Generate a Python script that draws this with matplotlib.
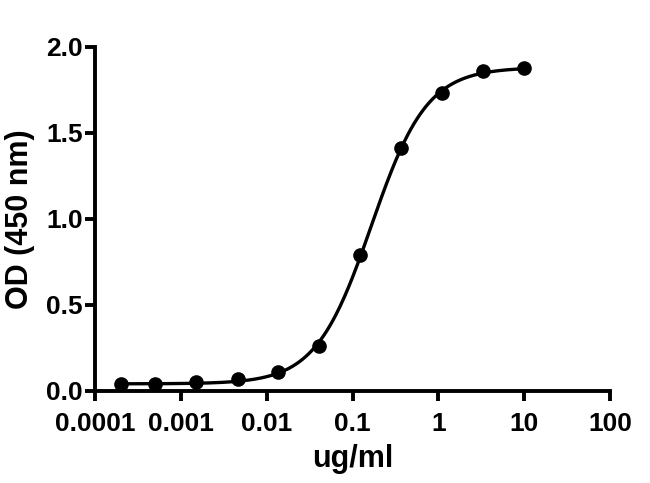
import numpy as np
import matplotlib
matplotlib.use("Agg")
import matplotlib.pyplot as plt

conc = [0.0002, 0.0005, 0.0015, 0.0046, 0.0137, 0.0412, 0.123, 0.370, 1.11, 3.33, 10.0]
od = [0.04, 0.04, 0.05, 0.07, 0.11, 0.26, 0.79, 1.41, 1.73, 1.86, 1.88]
xticks = [0.0001, 0.001, 0.01, 0.1, 1, 10, 100]
xtick_labels = ["0.0001", "0.001", "0.01", "0.1", "1", "10", "100"]
yticks = [0.0, 0.5, 1.0, 1.5, 2.0]

x = np.array(conc)
y = np.array(od)

# 4PL fit: grid search over EC50 / Hill, linear least squares for bottom/top
best = None
for lec in np.linspace(-2, 0, 201):
    for h in np.linspace(0.5, 3, 126):
        f = 1.0 / (1.0 + (10**lec / x) ** h)
        A = np.vstack([1 - f, f]).T
        coef, *_ = np.linalg.lstsq(A, y, rcond=None)
        r = np.sum((A @ coef - y) ** 2)
        if best is None or r < best[0]:
            best = (r, lec, h, coef)
_, lec, h, (bot, top) = best
xf = np.logspace(np.log10(x.min()), np.log10(x.max()), 400)
yf = bot + (top - bot) / (1.0 + (10**lec / xf) ** h)

plt.rcParams['font.family'] = ['Liberation Sans', 'DejaVu Sans']
plt.rcParams['font.weight'] = 'bold'

fig = plt.figure(figsize=(6.5, 4.83), dpi=100)
ax = fig.add_axes([95/650, 1-391/483, (610-95)/650, (391-47)/483])
ax.plot(xf, yf, color='black', lw=2.4, zorder=2)
ax.plot(x, y, 'o', color='black', ms=9.5, zorder=3)
ax.set_xscale('log')
ax.set_xlim(0.0001, 100)
ax.set_ylim(0, 2.0)
ax.set_xticks(xticks)
ax.set_xticklabels(xtick_labels)
ax.xaxis.set_minor_locator(matplotlib.ticker.NullLocator())
ax.set_yticks(yticks)
ax.set_yticklabels([f"{v:.1f}" for v in yticks])
for s in ['top', 'right']:
    ax.spines[s].set_visible(False)
for s in ['left', 'bottom']:
    ax.spines[s].set_linewidth(2.8)
ax.tick_params(direction='out', length=7, width=2.8, labelsize=19)
ax.tick_params(axis='x', pad=8)
ax.tick_params(axis='y', pad=2)
for lab in ax.get_xticklabels() + ax.get_yticklabels():
    lab.set_fontweight('bold')
ax.set_xlabel("ug/ml", fontsize=22, fontweight='bold', labelpad=6)
ax.set_ylabel("OD (450 nm)", fontsize=22, fontweight='bold', labelpad=8)
fig.savefig("out.png", dpi=100)
